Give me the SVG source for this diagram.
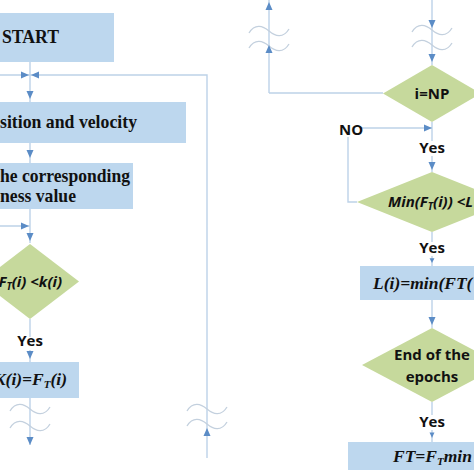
<svg xmlns="http://www.w3.org/2000/svg" xmlns:xlink="http://www.w3.org/1999/xlink" width="474" height="474" viewBox="0 0 474 474">
<style>
.box{fill:#BDD7EE}
.dia{fill:#C6D99C}
.ln{fill:none;stroke:#BDD2E8;stroke-width:1.4}
.wv{fill:none;stroke:#C3D0DE;stroke-width:1.3}
.ah{fill:#5B8CC6}
.serif{font-family:"Liberation Serif","Times New Roman",serif;font-weight:bold;font-size:19px;fill:#111}
.serif.it{font-size:17.5px}
.it{font-style:italic}
.sans{font-family:"Open Sans","Liberation Sans",Arial,sans-serif;font-weight:bold;font-size:15px;fill:#111}
</style>
<defs>
<path id="ad" d="M-3.5,-8 L3.5,-8 L0,0 Z"/>
<path id="wave" d="M-20,2 C-14,-8 -6,-5 0,0 C6,5 14,8 20,-2"/>
</defs>
<rect width="474" height="474" fill="#fff"/>

<g id="connectors">
<path class="ln" d="M30,62 V243 M0,75 H207 V458 M0,226 H30 M30,319 V337 M30,350 V362 M30,398 V445"/>
<path class="ln" d="M269,93 V0 M269,93 H383 M432,0 V65 M432,122 V141 M432,156 V172 M362,128 H432 M348,137 V202 H357 M432,232 V242 M432,256 V266 M432,300 V328 M432,402 V415 M432,430 V442"/>
<g class="wv">
<use xlink:href="#wave" x="30" y="409"/>
<use xlink:href="#wave" x="30" y="426"/>
<use xlink:href="#wave" x="207" y="409"/>
<use xlink:href="#wave" x="207" y="424"/>
<use xlink:href="#wave" x="269" y="31"/>
<use xlink:href="#wave" x="269" y="46"/>
<use xlink:href="#wave" x="432" y="30"/>
<use xlink:href="#wave" x="432" y="45"/>
</g>
<g class="ah">
<use xlink:href="#ad" transform="translate(30,99)"/>
<use xlink:href="#ad" transform="translate(29,75) rotate(-90)"/>
<use xlink:href="#ad" transform="translate(31,75) rotate(90)"/>
<use xlink:href="#ad" transform="translate(30,158)"/>
<use xlink:href="#ad" transform="translate(29,226) rotate(-90)"/>
<use xlink:href="#ad" transform="translate(30,241)"/>
<use xlink:href="#ad" transform="translate(30,359)"/>
<use xlink:href="#ad" transform="translate(30,445)"/>
<use xlink:href="#ad" transform="translate(207,428) rotate(180)"/>
<use xlink:href="#ad" transform="translate(269,2) rotate(180)"/>
<use xlink:href="#ad" transform="translate(269,45) rotate(180)"/>
<use xlink:href="#ad" transform="translate(432,28)"/>
<use xlink:href="#ad" transform="translate(432,62)"/>
<use xlink:href="#ad" transform="translate(432,128) rotate(-90)"/>
<use xlink:href="#ad" transform="translate(432,170)"/>
<use xlink:href="#ad" transform="translate(432,263) scale(0.7,0.6)"/>
<use xlink:href="#ad" transform="translate(432,325)"/>
<use xlink:href="#ad" transform="translate(432,438) scale(0.7,0.7)"/>
</g>
<text class="sans" x="30" y="346" text-anchor="middle">Yes</text>
<text class="sans" x="339" y="135">NO</text>
<text class="sans" x="432" y="153" text-anchor="middle">Yes</text>
<text class="sans" x="432" y="253" text-anchor="middle">Yes</text>
<text class="sans" x="432" y="427" text-anchor="middle">Yes</text>
</g>

<g id="start">
<rect class="box" x="-10" y="13" width="124" height="49"/>
<text class="serif" x="2" y="43" textLength="57" lengthAdjust="spacingAndGlyphs">START</text>
</g>
<g id="init">
<rect class="box" x="-10" y="102" width="196" height="41"/>
<text class="serif" x="0" y="128" textLength="137" lengthAdjust="spacingAndGlyphs">sition and velocity</text>
</g>
<g id="fitness">
<rect class="box" x="-10" y="163" width="143" height="46"/>
<text class="serif" x="0" y="182" textLength="130" lengthAdjust="spacingAndGlyphs">he corresponding</text>
<text class="serif" x="0" y="202" textLength="76" lengthAdjust="spacingAndGlyphs">ness value</text>
</g>
<g id="cond1">
<polygon class="dia" points="30,244 79,281.5 30,319 -19,281.5"/>
<text class="sans it" x="62" y="287" text-anchor="end">F<tspan font-size="10" dy="3">T</tspan><tspan dy="-3">(i) &lt;k(i)</tspan></text>
</g>
<g id="update-k">
<rect class="box" x="-10" y="362" width="89" height="36"/>
<text class="serif it" x="67" y="385" text-anchor="end">K(i)=F<tspan font-size="11" dy="3">T</tspan><tspan dy="-3">(i)</tspan></text>
</g>
<g id="cond-np">
<polygon class="dia" points="432,65 481,93.5 432,122 383,93.5"/>
<text class="sans" x="432" y="99" text-anchor="middle">i=NP</text>
</g>
<g id="cond-min">
<polygon class="dia" points="432,172 507,202 432,232 357,202"/>
<text class="sans it" x="388" y="207">Min(F<tspan font-size="10" dy="3">T</tspan><tspan dy="-3">(i)) &lt;L</tspan></text>
</g>
<g id="update-l">
<rect class="box" x="360" y="266" width="124" height="34"/>
<text class="serif it" x="373" y="289">L(i)=min(FT(</text>
</g>
<g id="cond-epochs">
<polygon class="dia" points="432,328 502,365 432,402 362,365"/>
<text class="sans" x="432" y="360" text-anchor="middle">End of the</text>
<text class="sans" x="432" y="382" text-anchor="middle">epochs</text>
</g>
<g id="final">
<rect class="box" x="348" y="442" width="136" height="28"/>
<text class="serif it" x="393" y="462">FT=F<tspan font-size="11" dy="3">T</tspan><tspan dy="-3">min</tspan></text>
</g>
</svg>
